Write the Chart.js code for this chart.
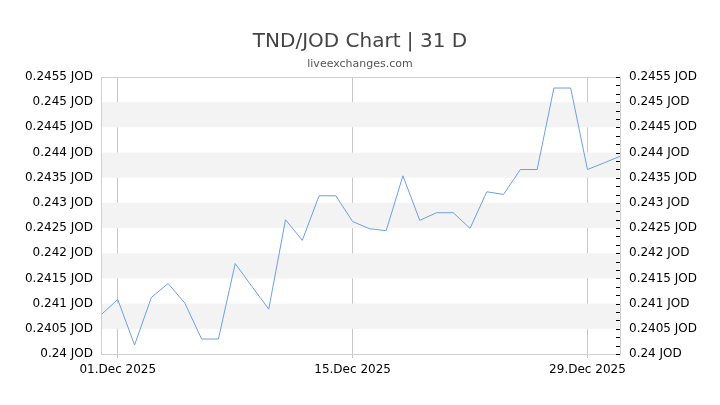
<!DOCTYPE html>
<html><head><meta charset="utf-8">
<script src="https://cdn.jsdelivr.net/npm/chart.js@4"></script>
<style>html,body{margin:0;padding:0;background:#fff}#w{width:720px;height:405px}</style>
</head><body><div id="w"><canvas id="c"></canvas></div>
<script>
const dates = ["30.Nov","01.Dec","02.Dec","03.Dec","04.Dec","05.Dec","06.Dec","07.Dec","08.Dec","09.Dec","10.Dec","11.Dec","12.Dec","13.Dec","14.Dec","15.Dec","16.Dec","17.Dec","18.Dec","19.Dec","20.Dec","21.Dec","22.Dec","23.Dec","24.Dec","25.Dec","26.Dec","27.Dec","28.Dec","29.Dec","30.Dec","31.Dec"];
const rates = [0.240778,0.241083,0.240178,0.241122,0.2414,0.24101,0.240297,0.240297,0.241796,0.24134,0.240891,0.242667,0.242257,0.243142,0.243142,0.24263,0.242488,0.242449,0.243538,0.242653,0.242805,0.242805,0.242495,0.243221,0.243168,0.243663,0.243663,0.245281,0.245281,0.243663,0.243796,0.243934];
const xTickIdx = [1,15,29];
const xTickLabels = ["01.Dec 2025","15.Dec 2025","29.Dec 2025"];
const yMin = 0.24, yMax = 0.2455, yStep = 0.0005;

const fmt = v => (Math.round(v*10000)/10000).toString() + " JOD";
const font = {family:"'DejaVu Sans'", size:12};
const deco = {
  id:'deco',
  beforeDatasetsDraw(ch){
    const {ctx, chartArea:a, scales:{y}} = ch;
    ctx.save();
    ctx.fillStyle = '#f3f3f3';
    for (let v = yMin + yStep; v < yMax - 1e-9; v += 2*yStep) {
      const t = y.getPixelForValue(v + yStep), b = y.getPixelForValue(v);
      ctx.fillRect(a.left, t, a.right - a.left, b - t);
    }
    ctx.restore();
  },
  afterDraw(ch){
    const {ctx, chartArea:a, scales:{y}} = ch;
    ctx.save();
    ctx.strokeStyle = '#d0d0d0'; ctx.lineWidth = 1;
    ctx.strokeRect(a.left+0.5, a.top+0.5, a.right-a.left-1, a.bottom-a.top);
    ctx.strokeStyle = '#000';
    for (let v = yMin; v <= yMax + 1e-9; v += 0.001/6) {
      const p = Math.round(y.getPixelForValue(v)) + 0.5;
      ctx.beginPath(); ctx.moveTo(a.right-5, p); ctx.lineTo(a.right-1, p); ctx.stroke();
    }
    ctx.textAlign = 'center';
    ctx.fillStyle = '#444';
    ctx.font = "20px 'DejaVu Sans'";
    ctx.fillText("TND/JOD Chart | 31 D", 360, 47);
    ctx.font = "11px 'DejaVu Sans'";
    ctx.fillStyle = '#555';
    ctx.fillText("liveexchanges.com", 360, 67);
    ctx.restore();
  }
};
const yAxis = (pos) => ({
  position: pos, min: yMin, max: yMax,
  afterBuildTicks(s){ s.ticks = []; for (let v=yMin; v<=yMax+1e-9; v+=yStep) s.ticks.push({value:v}); },
  afterFit(s){ s.width = pos==='left' ? 101 : 99; },
  grid:{display:false, drawTicks:false}, border:{display:false},
  ticks:{ color:'#000', font, padding: 8, callback: v => fmt(v) }
});
new Chart(document.getElementById('c'), {
  type:'line',
  data:{ datasets:[{ data: rates.map((v,i)=>({x:i,y:v})), borderColor:'#6d9eeb', borderWidth:1, pointRadius:0, tension:0, fill:false }] },
  options:{
    responsive:true, maintainAspectRatio:false, animation:false,
    layout:{padding:{top:77,left:0,right:0,bottom:0}},
    plugins:{legend:{display:false}, tooltip:{enabled:false}},
    scales:{
      x:{ type:'linear', min:0, max:31,
        afterBuildTicks(s){ s.ticks = xTickIdx.map(v=>({value:v})); },
        afterFit(s){ s.height = 51; },
        grid:{color:'#c8c8c8', drawTicks:true, tickLength:4}, border:{display:false},
        ticks:{ color:'#000', font, maxRotation:0, autoSkip:false, padding:5,
          callback:(v)=> xTickLabels[xTickIdx.indexOf(v)] } },
      y: yAxis('left'),
      y2: yAxis('right')
    }
  },
  plugins:[deco]
});
</script></body></html>
